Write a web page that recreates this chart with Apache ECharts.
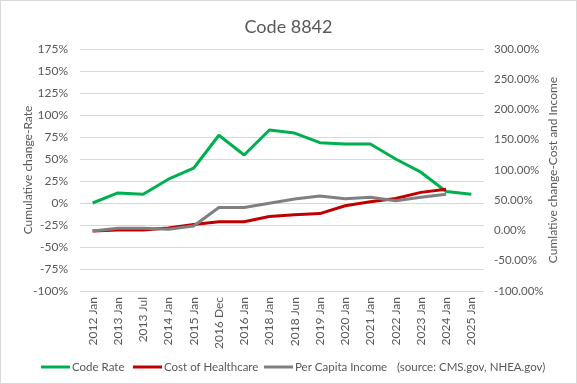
<!DOCTYPE html>
<html>
<head>
<meta charset="utf-8">
<script src="https://cdn.jsdelivr.net/npm/echarts@6/dist/echarts.min.js"></script>
<style>
html,body{margin:0;padding:0;background:#fff;}
#c{width:575px;height:382px;border:1px solid #d9d9d9;}
</style>
</head>
<body>
<div id="c"></div>
<script>
const categories = ['2012 Jan','2013 Jan','2013 Jul','2014 Jan','2015 Jan','2016 Dec','2016 Jan','2018 Jan','2018 Jun','2019 Jan','2020 Jan','2021 Jan','2022 Jan','2023 Jan','2024 Jan','2025 Jan'];
const codeRate = [0, 11.4, 10, 27, 39.5, 77, 54.5, 83, 79.5, 68.5, 67, 67, 50, 35, 13, 10];
const costHealthcare = [-1, 1, 1, 4, 10, 14.5, 14.5, 23, 26, 28, 41, 47.5, 53, 63, 68, null];
const perCapitaIncome = [-1, 3.6, 3.6, 2, 7.4, 38, 38, 45, 52, 57, 52.6, 55, 49, 55, 60, null];
const leftTicks = {min: -100, max: 175, interval: 25};
const rightTicks = {min: -100, max: 300, interval: 50};
const seriesNames = ['Code Rate', 'Cost of Healthcare', 'Per Capita Income'];

const FONT = 'Lato';
const TXT = '#595959';
const legendLefts = [40, 132, 263];
const chart = echarts.init(document.getElementById('c'));
chart.setOption({
  animation: false,
  textStyle: {fontFamily: FONT},
  title: {
    text: 'Code 8842', left: 'center', top: 12,
    textStyle: {fontFamily: FONT, fontSize: 18, fontWeight: 'normal', color: TXT}
  },
  grid: {left: 79, right: 92, top: 48, bottom: 92, containLabel: false},
  legend: seriesNames.map((n, i) => ({
    left: legendLefts[i], top: 360, itemWidth: 29, itemHeight: 3, itemGap: 0,
    icon: 'rect', padding: 0,
    textStyle: {fontFamily: FONT, fontSize: 11.5, color: TXT, padding: [0, 0, 0, -3]},
    data: [n]
  })),
  graphic: [{
    type: 'text', left: 396, top: 360,
    style: {text: '(source: CMS.gov, NHEA.gov)', font: '11.5px ' + FONT, fill: TXT}
  }],
  xAxis: {
    type: 'category', data: categories, boundaryGap: true,
    axisLine: {show: false}, axisTick: {show: false},
    axisLabel: {rotate: 90, color: TXT, fontSize: 12, margin: 6, interval: 0}
  },
  yAxis: [{
    type: 'value', min: leftTicks.min, max: leftTicks.max, interval: leftTicks.interval,
    name: 'Cumulative change-Rate', nameLocation: 'middle', nameGap: 46,
    nameMoveOverlap: false,
    nameTextStyle: {color: TXT, fontSize: 12, fontFamily: FONT},
    axisLabel: {formatter: v => v + '%', color: TXT, fontSize: 12, margin: 12},
    axisLine: {show: false}, axisTick: {show: false},
    splitLine: {lineStyle: {color: '#d9d9d9', width: 1}}
  }, {
    type: 'value', min: rightTicks.min, max: rightTicks.max, interval: rightTicks.interval,
    name: 'Cumlative change-Cost and Income', nameLocation: 'middle', nameGap: 63,
    nameRotate: 90, nameMoveOverlap: false,
    nameTextStyle: {color: TXT, fontSize: 12, fontFamily: FONT},
    axisLabel: {formatter: v => v.toFixed(2) + '%', color: TXT, fontSize: 11.5, margin: 10},
    axisLine: {show: false}, axisTick: {show: false},
    splitLine: {show: false}
  }],
  series: [{
    name: seriesNames[0], type: 'line', yAxisIndex: 0, data: codeRate,
    showSymbol: false, symbol: 'none', lineStyle: {color: '#00B050', width: 3}, itemStyle: {color: '#00B050'}
  }, {
    name: seriesNames[1], type: 'line', yAxisIndex: 1, data: costHealthcare,
    showSymbol: false, symbol: 'none', lineStyle: {color: '#C00000', width: 3}, itemStyle: {color: '#C00000'}
  }, {
    name: seriesNames[2], type: 'line', yAxisIndex: 1, data: perCapitaIncome,
    showSymbol: false, symbol: 'none', lineStyle: {color: '#808080', width: 3}, itemStyle: {color: '#808080'}
  }]
});
</script>
</body>
</html>
